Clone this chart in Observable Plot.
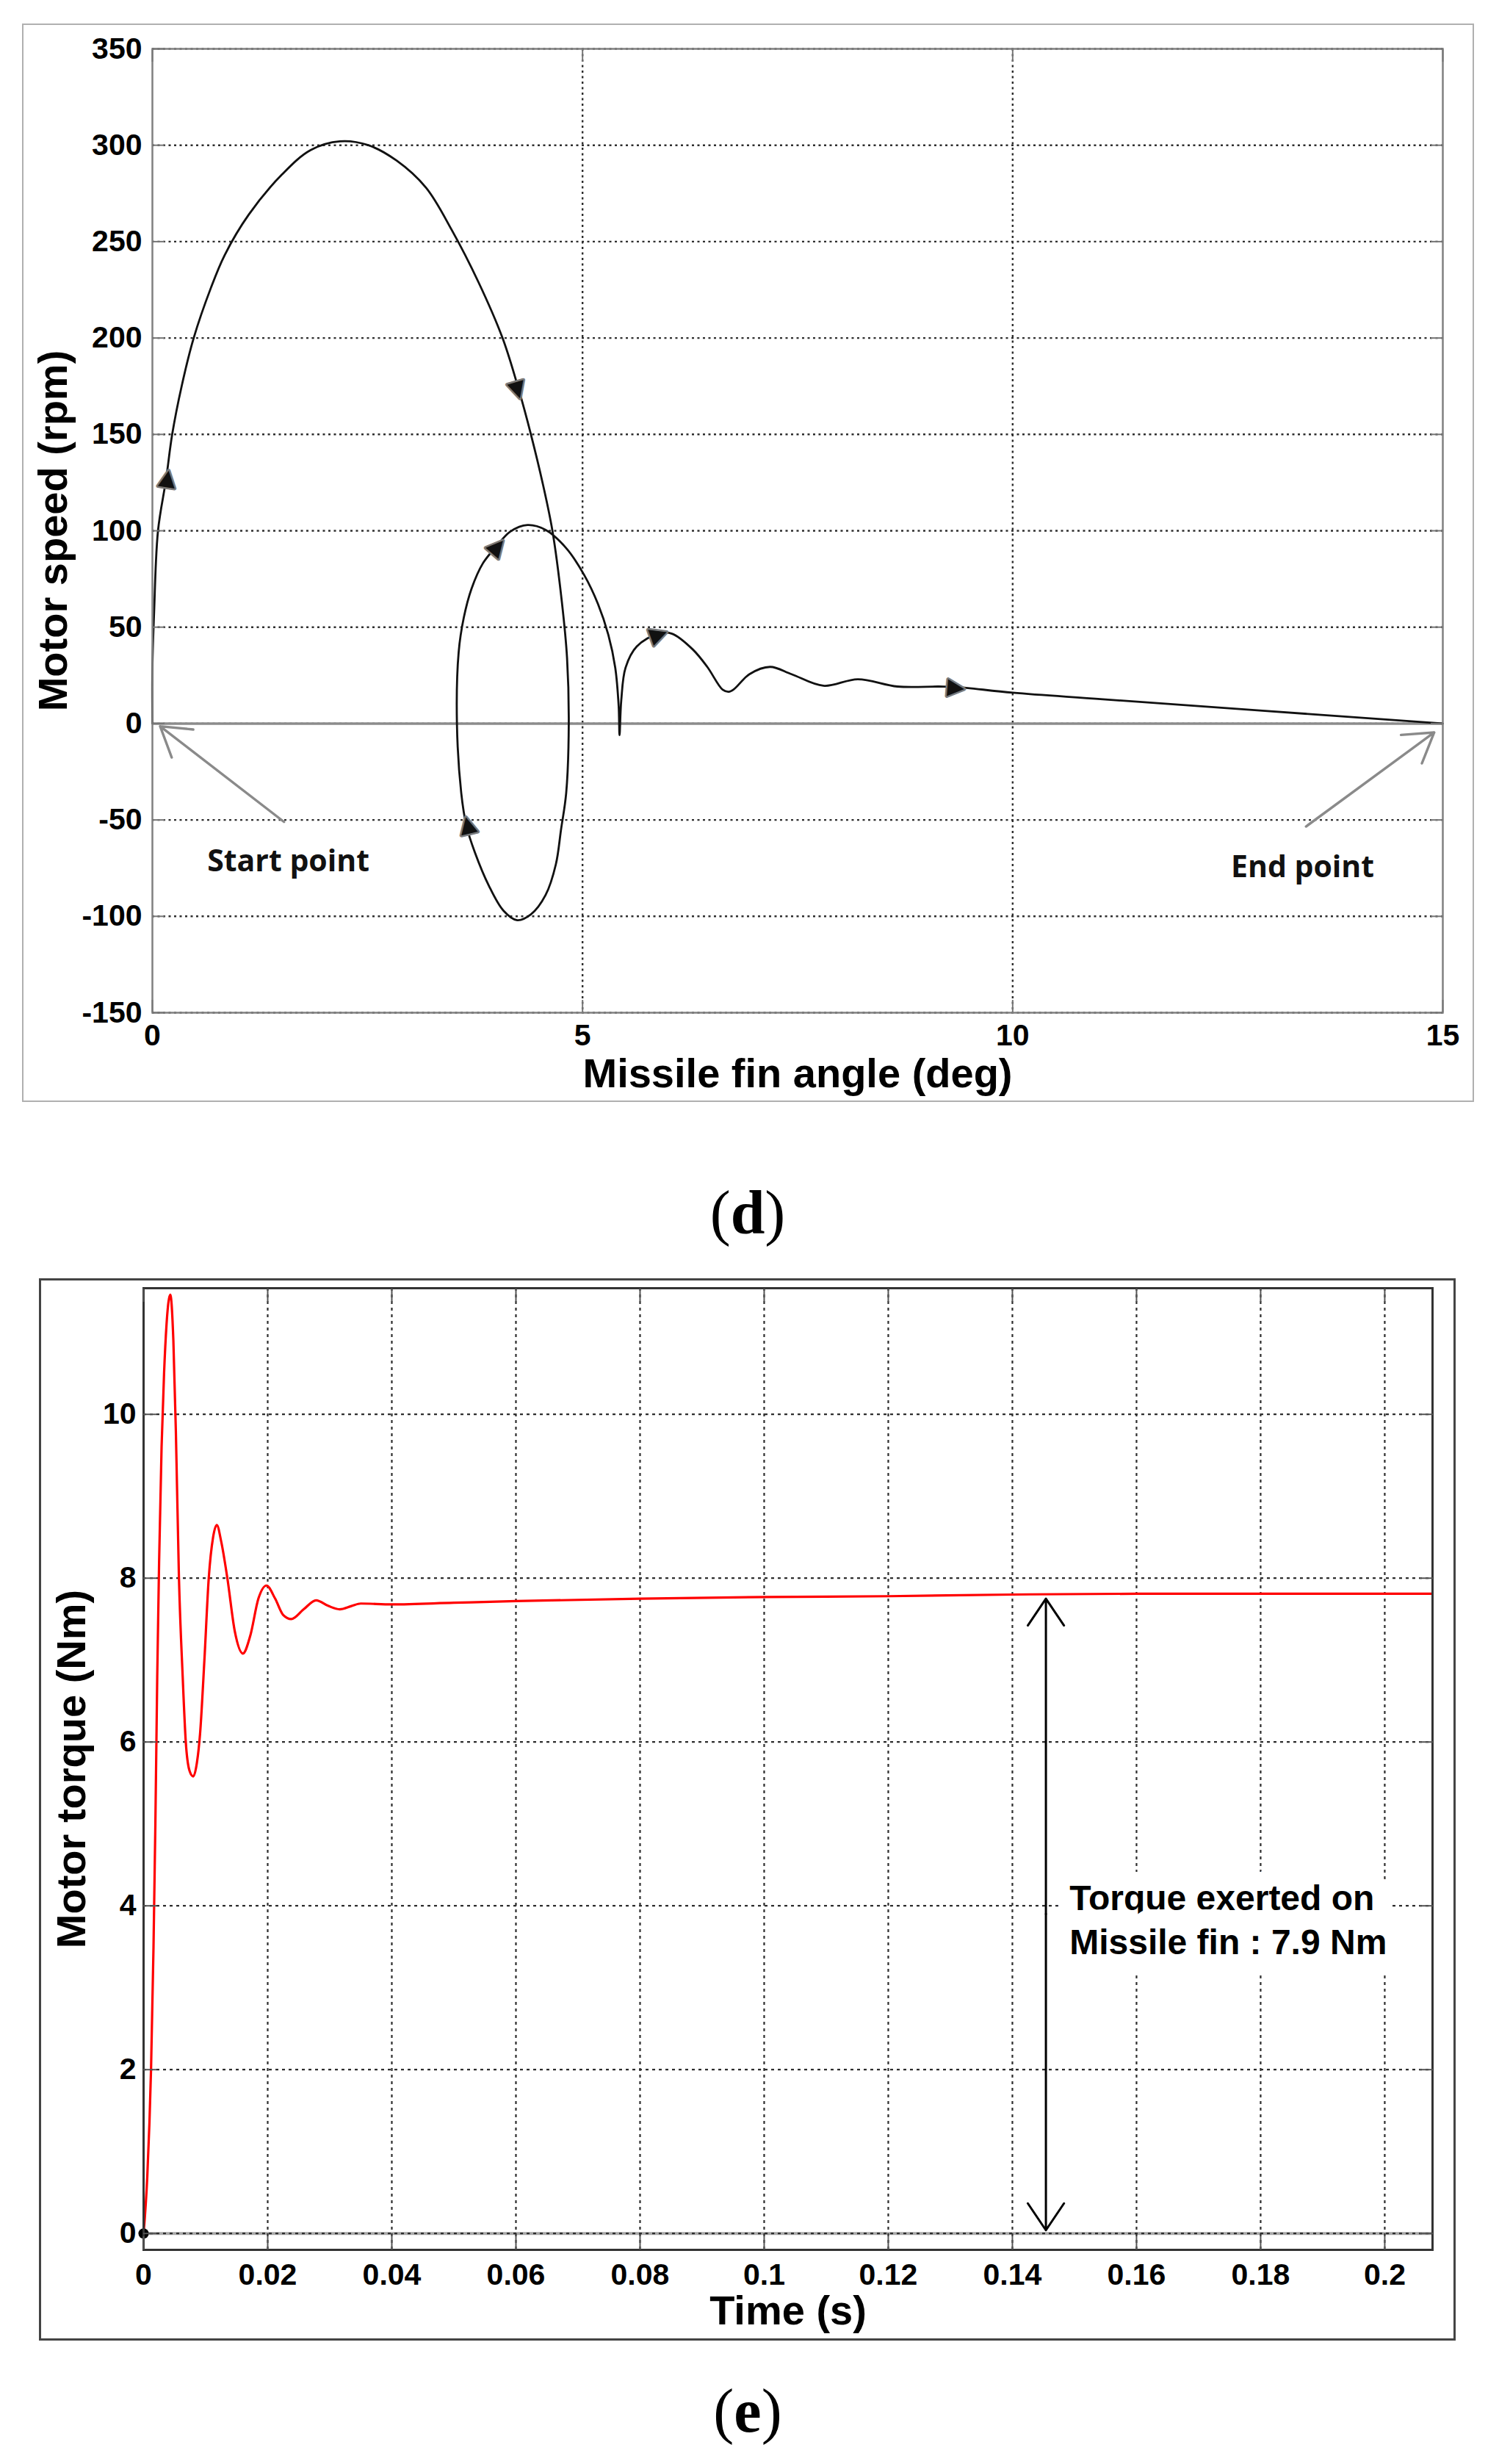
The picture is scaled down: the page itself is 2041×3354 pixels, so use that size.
<!DOCTYPE html>
<html>
<head>
<meta charset="utf-8">
<script src="https://cdn.jsdelivr.net/npm/d3@7"></script>
<script src="https://cdn.jsdelivr.net/npm/@observablehq/plot@0.6"></script>
<style>
  html, body { margin: 0; padding: 0; background: #fff; }
  #page { position: relative; width: 2041px; height: 3354px; background: #fff; overflow: hidden; }
  .panel { position: absolute; }
  .cap { position: absolute; left: 0; width: 2036px; text-align: center;
         font-family: "Liberation Serif", "Times New Roman", serif; font-size: 84px; line-height: 84px; color: #000; }
</style>
</head>
<body>
<div id="page">
  <div id="chartD" class="panel" style="left:30px;top:32px;width:1977px;height:1468px;"></div>
  <div class="cap" style="top:1609px;">(<b>d</b>)</div>
  <div id="chartE" class="panel" style="left:53px;top:1740px;width:1929px;height:1446px;"></div>
  <div class="cap" style="top:3240px;">(<b>e</b>)</div>
</div>
<script>
// ---------- Panel (d): phase portrait ----------
const finAngleDeg = [0, 0, 0.02, 0.065, 0.16, 0.23, 0.34, 0.48, 0.68, 0.84, 1.12, 1.51, 1.84, 2.18, 2.51, 2.84, 3.18, 3.48, 3.79, 4.07, 4.26, 4.40, 4.54, 4.65, 4.76, 4.82, 4.84, 4.81, 4.75, 4.69, 4.57, 4.40, 4.24, 4.08, 3.91, 3.75, 3.65, 3.59, 3.54, 3.56, 3.62, 3.71, 3.84, 4.0, 4.16, 4.36, 4.57, 4.81, 5.02, 5.18, 5.30, 5.38, 5.42, 5.43, 5.45, 5.50, 5.63, 5.88, 6.04, 6.28, 6.45, 6.63, 6.70, 6.76, 6.94, 7.18, 7.43, 7.8, 8.2, 8.66, 9.14, 9.34, 10, 11.05, 15];
const motorSpeedRpm = [0, 29, 58, 100, 127, 150, 175, 200, 226, 243, 264, 285, 297.5, 302, 300, 292, 278, 256, 229, 200, 173, 150, 124, 100, 63, 34, 0, -36, -55, -73, -89, -99, -102, -97, -84, -67, -53, -36, 0, 37, 55, 70, 83, 92, 99.6, 103, 100.5, 91, 77, 62, 46, 29, 9, -6, 12, 29, 40, 46.6, 46.6, 38.5, 29.4, 17.5, 16.5, 17.8, 25.6, 29.4, 25.6, 19.6, 23, 19.2, 19.2, 19, 16, 12.6, 0];
// direction markers placed on the trajectory (angle, speed)
const markerAngle = [0.16, 4.26, 3.65, 4.0, 5.88, 9.34];
const markerSpeed = [127, 173, -53, 92, 46.6, 19];
const angleTicks = [0, 5, 10, 15];
const angleGrid = [5, 10];
const speedTicks = [-150, -100, -50, 0, 50, 100, 150, 200, 250, 300, 350];
// annotations
const noteLabels = ["Start point", "End point"];
const noteLabelAngle = [1.58, 13.37];
const noteLabelSpeed = [-71.6, -74.8];
const noteArrowAngle1 = [1.53, 13.41];
const noteArrowSpeed1 = [-51, -53.4];
const noteArrowAngle2 = [0.09, 14.9];
const noteArrowSpeed2 = [-1.4, -4.6];

// ---------- Panel (e): torque vs time ----------
const timeS = [0, 0.0006, 0.0012, 0.0016, 0.0019, 0.0022, 0.0025, 0.0029, 0.0033, 0.0037, 0.0043, 0.0048, 0.0052, 0.0057, 0.0063, 0.0068, 0.0074, 0.0080, 0.0086, 0.0091, 0.0098, 0.0105, 0.0112, 0.0118, 0.0125, 0.0135, 0.0147, 0.0160, 0.0172, 0.0185, 0.0198, 0.0212, 0.0225, 0.0238, 0.0258, 0.0278, 0.0298, 0.0316, 0.0335, 0.035, 0.04, 0.05, 0.06, 0.08, 0.1, 0.12, 0.14, 0.16, 0.18, 0.2, 0.2077];
const torqueNm = [0, 0.7, 2, 3.5, 5, 6.8, 8.2, 9.6, 10.5, 11.1, 11.46, 10.9, 9.8, 8.0, 6.8, 6.0, 5.65, 5.58, 5.75, 6.1, 7.0, 8.0, 8.5, 8.65, 8.45, 8.0, 7.35, 7.08, 7.3, 7.75, 7.91, 7.75, 7.55, 7.5, 7.62, 7.73, 7.66, 7.62, 7.66, 7.69, 7.68, 7.7, 7.72, 7.75, 7.77, 7.78, 7.8, 7.81, 7.81, 7.81, 7.81];
const timeTicks = [0, 0.02, 0.04, 0.06, 0.08, 0.1, 0.12, 0.14, 0.16, 0.18, 0.2];
const timeGrid = [0.02, 0.04, 0.06, 0.08, 0.1, 0.12, 0.14, 0.16, 0.18, 0.2];
const torqueTicks = [0, 2, 4, 6, 8, 10];
const torqueNoteText = "Torque exerted on\nMissile fin : 7.9 Nm";
const torqueNoteTime = [0.1492];
const torqueNoteValue = [3.85];
const torqueArrowTime = [0.1454];
const torqueArrowValue = [0.04, 3.9, 7.75]; // bottom, middle, top

const SANS = "'Liberation Sans', Arial, Helvetica, sans-serif";

// ---------- build panel (d) ----------
{
  const W = 1977, H = 1468, mL = 177, mR = 43, mT = 34, mB = 122;
  const xDom = [0, 15], yDom = [-150, 350];
  const curveData = finAngleDeg.map((a, i) => ({angle: a, speed: motorSpeedRpm[i]}));
  const kx = (W - mL - mR) / (xDom[1] - xDom[0]);
  const ky = (H - mT - mB) / (yDom[1] - yDom[0]);
  const markers = markerAngle.map((a, j) => {
    const s = markerSpeed[j];
    let i = curveData.findIndex(d => d.angle === a && d.speed === s);
    const p0 = curveData[Math.max(0, i - 1)], p1 = curveData[Math.min(curveData.length - 1, i + 1)];
    const dx = (p1.angle - p0.angle) * kx, dy = -(p1.speed - p0.speed) * ky;
    return {angle: a, speed: s, rot: Math.atan2(dy, dx) * 180 / Math.PI};
  });
  const notes = noteLabels.map((t, i) => ({
    t, x: noteLabelAngle[i], y: noteLabelSpeed[i],
    x1: noteArrowAngle1[i], y1: noteArrowSpeed1[i], x2: noteArrowAngle2[i], y2: noteArrowSpeed2[i]
  }));
  const grid = {stroke: "#2e2e2e", strokeOpacity: 1, strokeWidth: 2.4, strokeDasharray: "3,4.5"};
  const svg = Plot.plot({
    width: W, height: H,
    marginLeft: mL, marginRight: mR, marginTop: mT, marginBottom: mB,
    style: {fontFamily: SANS, background: "#fff", color: "#000", overflow: "visible"},
    x: {domain: xDom, label: null},
    y: {domain: yDom, label: null},
    marks: [
      Plot.gridX(angleGrid, grid),
      Plot.gridY(speedTicks, grid),
      Plot.ruleY([0], {stroke: "#8c8c8c", strokeWidth: 3.5}),
      Plot.line(curveData, {x: "angle", y: "speed", curve: "catmull-rom", stroke: "#111", strokeWidth: 2.8}),
      Plot.arrow(notes, {x1: "x1", y1: "y1", x2: "x2", y2: "y2", stroke: "#8a8a8a", strokeWidth: 3.4, headLength: 20, headAngle: 64}),
      Plot.text(notes, {x: "x", y: "y", text: "t", fontFamily: "'Open Sans', 'Noto Sans', sans-serif", fontWeight: 700, fontSize: 41, fill: "#111", textAnchor: "middle", lineAnchor: "middle"}),
      Plot.text(markers, {x: "angle", y: "speed", text: () => "\u25B6", rotate: "rot", fontFamily: "'DejaVu Sans', sans-serif", fontSize: 30, fill: "#111", stroke: "#7a7a7a", strokeWidth: 5, paintOrder: "stroke", strokeLinejoin: "round", textAnchor: "middle", lineAnchor: "middle"}),
      Plot.frame({stroke: "#808080", strokeWidth: 2.5}),
      Plot.axisX(angleTicks, {anchor: "top", tickSize: -17, tickFormat: () => "", label: null, stroke: "#777", strokeWidth: 2}),
      Plot.axisX(angleTicks, {anchor: "bottom", tickSize: -17, tickPadding: 32, tickFormat: d => String(d), label: null, stroke: "#777", strokeWidth: 2, fontSize: 41, fontWeight: "bold"}),
      Plot.axisY(speedTicks, {anchor: "right", tickSize: -17, tickFormat: () => "", label: null, stroke: "#777", strokeWidth: 2}),
      Plot.axisY(speedTicks, {anchor: "left", tickSize: -17, tickPadding: 31, tickFormat: d => String(d), label: null, stroke: "#777", strokeWidth: 2, fontSize: 41, fontWeight: "bold"}),
      Plot.text(["Motor speed (rpm)"], {text: d => d, frameAnchor: "left", dx: -134, rotate: -90, fontSize: 56, fontWeight: "bold", textAnchor: "middle", lineAnchor: "middle"}),
      Plot.text(["Missile fin angle (deg)"], {text: d => d, frameAnchor: "bottom", dy: 84, fontSize: 56, fontWeight: "bold", textAnchor: "middle", lineAnchor: "middle"})
    ]
  });
  svg.style.outline = "2px solid #b0b0b0";
  svg.style.outlineOffset = "-2px";
  document.getElementById("chartD").appendChild(svg);
}

// ---------- build panel (e) ----------
{
  const W = 1929, H = 1446, mL = 142, mR = 32, mT = 13, mB = 124;
  const data = timeS.map((t, i) => ({t, q: torqueNm[i]}));
  const grid = {stroke: "#2e2e2e", strokeOpacity: 1, strokeWidth: 2.2, strokeDasharray: "4,5"};
  const arrows = [
    {y1: torqueArrowValue[1], y2: torqueArrowValue[2]},
    {y1: torqueArrowValue[1], y2: torqueArrowValue[0]}
  ];
  const svg = Plot.plot({
    width: W, height: H,
    marginLeft: mL, marginRight: mR, marginTop: mT, marginBottom: mB,
    style: {fontFamily: SANS, background: "#fff", color: "#000", overflow: "visible"},
    x: {domain: [0, 0.2077], label: null},
    y: {domain: [-0.2, 11.54], label: null},
    marks: [
      Plot.ruleY([0], {stroke: "#a8a8a8", strokeWidth: 4}),
      Plot.gridX(timeGrid, grid),
      Plot.gridY(torqueTicks, grid),
      Plot.text([torqueNoteText], {text: d => d, x: torqueNoteTime[0], y: torqueNoteValue[0], fontSize: 48, fontWeight: "bold", textAnchor: "start", lineAnchor: "middle", lineHeight: 1.25, fill: "#000", stroke: "#fff", strokeWidth: 52, strokeLinejoin: "round", paintOrder: "stroke"}),
      Plot.line(data, {x: "t", y: "q", curve: "monotone-x", stroke: "#ff0000", strokeWidth: 3.2}),
      Plot.dot(data.slice(0, 1), {x: "t", y: "q", r: 7, fill: "#000", stroke: "none"}),
      Plot.arrow(arrows, {x: torqueArrowTime[0], y1: "y1", y2: "y2", stroke: "#000", strokeWidth: 3, headLength: 22, headAngle: 68}),
      Plot.frame({stroke: "#333", strokeWidth: 3}),
      Plot.axisX(timeTicks, {anchor: "top", tickSize: -18, tickFormat: () => "", label: null, stroke: "#555", strokeWidth: 2}),
      Plot.axisX(timeTicks, {anchor: "bottom", tickSize: -18, tickPadding: 36, tickFormat: d => String(d), label: null, stroke: "#555", strokeWidth: 2, fontSize: 41, fontWeight: "bold"}),
      Plot.axisY(torqueTicks, {anchor: "right", tickSize: -18, tickFormat: () => "", label: null, stroke: "#555", strokeWidth: 2}),
      Plot.axisY(torqueTicks, {anchor: "left", tickSize: -18, tickPadding: 28, tickFormat: d => String(d), label: null, stroke: "#555", strokeWidth: 2, fontSize: 41, fontWeight: "bold"}),
      Plot.text(["Motor torque (Nm)"], {text: d => d, frameAnchor: "left", dx: -97, rotate: -90, fontSize: 56, fontWeight: "bold", textAnchor: "middle", lineAnchor: "middle"}),
      Plot.text(["Time (s)"], {text: d => d, frameAnchor: "bottom", dy: 84, fontSize: 56, fontWeight: "bold", textAnchor: "middle", lineAnchor: "middle"})
    ]
  });
  svg.style.outline = "3px solid #444";
  svg.style.outlineOffset = "-3px";
  document.getElementById("chartE").appendChild(svg);
}
</script>
</body>
</html>
